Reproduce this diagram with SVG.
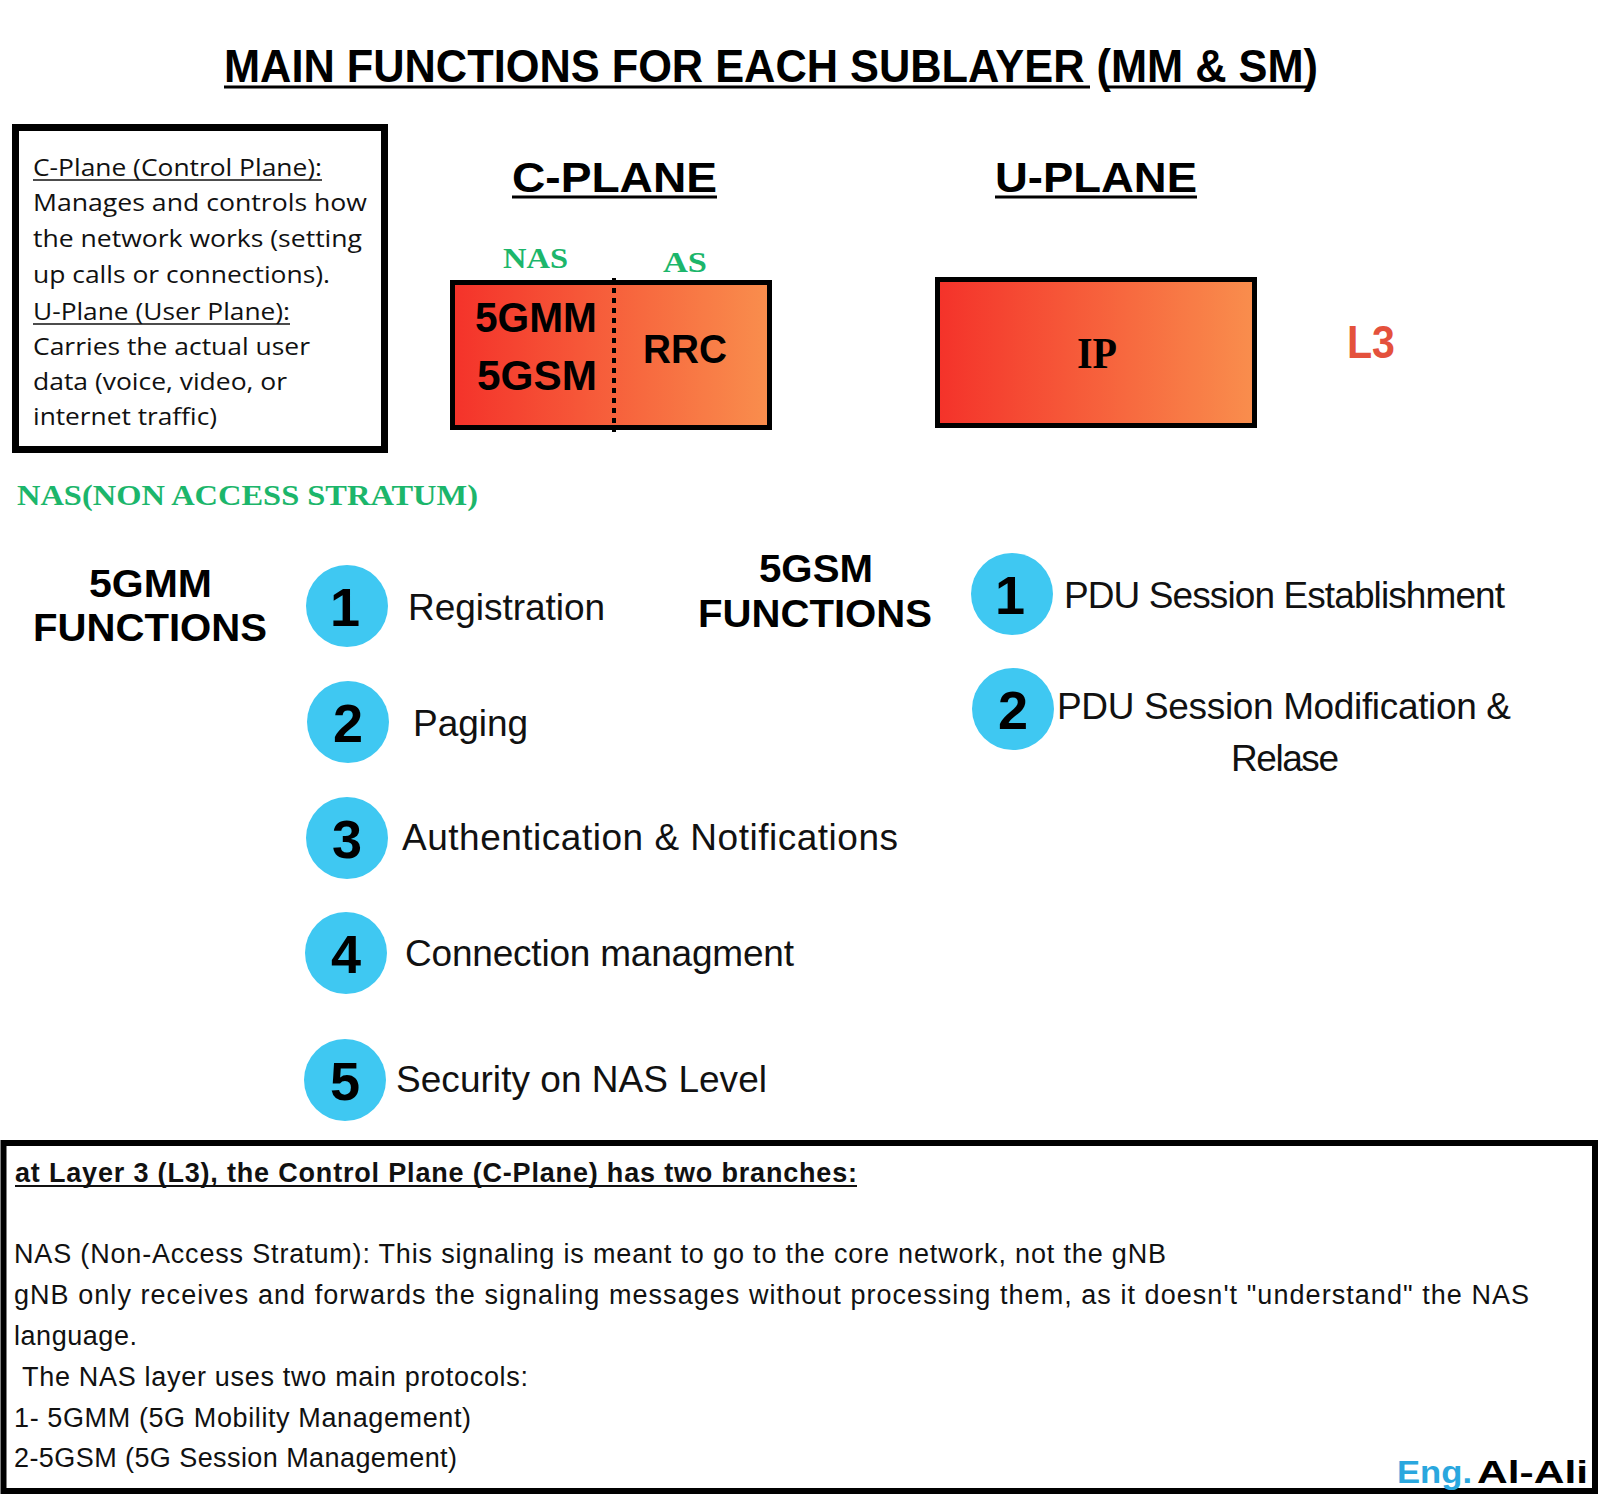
<svg xmlns="http://www.w3.org/2000/svg" width="1600" height="1501" viewBox="0 0 1600 1501">
<style>
.sans{font-family:"Liberation Sans",Arial,sans-serif}
.bold{font-weight:bold}
.serif{font-family:"Liberation Serif","Times New Roman",serif;font-weight:bold}
.info{font-family:"Open Sans","Noto Sans",sans-serif;font-size:24px;fill:#111}
.green{fill:#1cb66b}
.num{font-family:"Liberation Sans",Arial,sans-serif;font-weight:bold;font-size:54px;fill:#000;text-anchor:middle}
.lbl{font-family:"Liberation Sans",Arial,sans-serif;font-size:37px;fill:#111}
.body{font-family:"Liberation Sans",Arial,sans-serif;font-size:27px;fill:#111}
.circ{fill:#3fc8f2}
.ul{stroke:#000;stroke-width:3}
.box{stroke:#000;stroke-width:5;fill:url(#grad)}
</style>
<defs>
<linearGradient id="grad" x1="0" y1="0" x2="1" y2="0">
<stop offset="0" stop-color="#f4322a"/>
<stop offset="1" stop-color="#f98e4d"/>
</linearGradient>
</defs>
<rect width="1600" height="1501" fill="#fff"/>

<g id="title">
<text class="sans bold" x="224" y="82" font-size="46" textLength="1094" lengthAdjust="spacingAndGlyphs">MAIN FUNCTIONS FOR EACH SUBLAYER (MM &amp; SM)</text>
<line class="ul" x1="224" y1="87" x2="1090" y2="87"/>
<line class="ul" x1="1107" y1="87" x2="1309" y2="87"/>
</g>

<g id="plane-info">
<rect x="15.5" y="127.5" width="369" height="322" fill="#fff" stroke="#000" stroke-width="7"/>
<text class="info" x="33" y="176" textLength="289" lengthAdjust="spacingAndGlyphs">C-Plane (Control Plane):</text>
<line x1="33" y1="180" x2="322" y2="180" stroke="#111" stroke-width="1.5"/>
<text class="info" x="33" y="211" textLength="334" lengthAdjust="spacingAndGlyphs">Manages and controls how</text>
<text class="info" x="33" y="247" textLength="329" lengthAdjust="spacingAndGlyphs">the network works (setting</text>
<text class="info" x="33" y="283" textLength="297" lengthAdjust="spacingAndGlyphs">up calls or connections).</text>
<text class="info" x="33" y="320" textLength="257" lengthAdjust="spacingAndGlyphs">U-Plane (User Plane):</text>
<line x1="33" y1="324" x2="290" y2="324" stroke="#111" stroke-width="1.5"/>
<text class="info" x="33" y="355" textLength="277" lengthAdjust="spacingAndGlyphs">Carries the actual user</text>
<text class="info" x="33" y="390" textLength="254" lengthAdjust="spacingAndGlyphs">data (voice, video, or</text>
<text class="info" x="33" y="425" textLength="184" lengthAdjust="spacingAndGlyphs">internet traffic)</text>
</g>

<g id="c-plane">
<text class="sans bold" x="512" y="192" font-size="42" textLength="205" lengthAdjust="spacingAndGlyphs">C-PLANE</text>
<line class="ul" x1="512" y1="197" x2="717" y2="197"/>
<text class="serif green" x="503" y="268" font-size="30" textLength="65" lengthAdjust="spacingAndGlyphs">NAS</text>
<text class="serif green" x="663" y="272" font-size="30" textLength="44" lengthAdjust="spacingAndGlyphs">AS</text>
<rect class="box" x="452.5" y="282.5" width="317" height="145"/>
<line x1="614" y1="278" x2="614" y2="432" stroke="#000" stroke-width="4" stroke-dasharray="5,5"/>
<text class="sans bold" x="475" y="332" font-size="42" textLength="122" lengthAdjust="spacingAndGlyphs">5GMM</text>
<text class="sans bold" x="477" y="390" font-size="42" textLength="120" lengthAdjust="spacingAndGlyphs">5GSM</text>
<text class="sans bold" x="643" y="363" font-size="40" textLength="84" lengthAdjust="spacingAndGlyphs">RRC</text>
</g>

<g id="u-plane">
<text class="sans bold" x="995" y="192" font-size="42" textLength="202" lengthAdjust="spacingAndGlyphs">U-PLANE</text>
<line class="ul" x1="995" y1="197" x2="1197" y2="197"/>
<rect class="box" x="937.5" y="279.5" width="317" height="146"/>
<text class="serif" x="1077" y="368" font-size="44" textLength="40" lengthAdjust="spacingAndGlyphs">IP</text>
</g>

<g id="l3-label">
<text class="sans bold" x="1347" y="358" font-size="47" fill="#e4513c" textLength="48" lengthAdjust="spacingAndGlyphs">L3</text>
</g>

<g id="nas-heading">
<text class="serif green" x="17" y="505" font-size="29" textLength="461" lengthAdjust="spacingAndGlyphs">NAS(NON ACCESS STRATUM)</text>
</g>

<g id="mm-functions">
<text class="sans bold" x="89" y="597" font-size="38" textLength="123" lengthAdjust="spacingAndGlyphs">5GMM</text>
<text class="sans bold" x="33" y="641" font-size="38" textLength="234" lengthAdjust="spacingAndGlyphs">FUNCTIONS</text>
</g>

<g id="mm-1">
<circle class="circ" cx="347" cy="606" r="41"/>
<text class="num" x="345" y="626">1</text>
<text class="lbl" x="408" y="620" textLength="197">Registration</text>
</g>
<g id="mm-2">
<circle class="circ" cx="348" cy="722" r="41"/>
<text class="num" x="348" y="742">2</text>
<text class="lbl" x="413" y="736" textLength="115">Paging</text>
</g>
<g id="mm-3">
<circle class="circ" cx="347" cy="838" r="41"/>
<text class="num" x="347" y="858">3</text>
<text class="lbl" x="402" y="850" textLength="496">Authentication &amp; Notifications</text>
</g>
<g id="mm-4">
<circle class="circ" cx="346" cy="953" r="41"/>
<text class="num" x="346" y="973">4</text>
<text class="lbl" x="405" y="966" textLength="389">Connection managment</text>
</g>
<g id="mm-5">
<circle class="circ" cx="345" cy="1080" r="41"/>
<text class="num" x="345" y="1100">5</text>
<text class="lbl" x="396" y="1092" textLength="371">Security on NAS Level</text>
</g>

<g id="sm-functions">
<text class="sans bold" x="759" y="582" font-size="38" textLength="114" lengthAdjust="spacingAndGlyphs">5GSM</text>
<text class="sans bold" x="698" y="627" font-size="38" textLength="234" lengthAdjust="spacingAndGlyphs">FUNCTIONS</text>
</g>

<g id="sm-1">
<circle class="circ" cx="1012" cy="594" r="41"/>
<text class="num" x="1010" y="614">1</text>
<text class="lbl" x="1064" y="608" textLength="441">PDU Session Establishment</text>
</g>
<g id="sm-2">
<circle class="circ" cx="1013" cy="709" r="41"/>
<text class="num" x="1013" y="729">2</text>
<text class="lbl" x="1057" y="719" textLength="454">PDU Session Modification &amp;</text>
<text class="lbl" x="1231" y="771" textLength="108">Relase</text>
</g>

<g id="summary">
<rect x="3.5" y="1143" width="1591.5" height="348" fill="none" stroke="#000" stroke-width="6"/>
<text class="body bold" x="15" y="1182" textLength="842">at Layer 3 (L3), the Control Plane (C-Plane) has two branches:</text>
<line x1="15" y1="1186" x2="857" y2="1186" stroke="#111" stroke-width="2"/>
<text class="body" x="14" y="1263" textLength="1152">NAS (Non-Access Stratum): This signaling is meant to go to the core network, not the gNB</text>
<text class="body" x="14" y="1304" textLength="1515">gNB only receives and forwards the signaling messages without processing them, as it doesn't "understand" the NAS</text>
<text class="body" x="14" y="1345" textLength="123">language.</text>
<text class="body" x="22" y="1386" textLength="506">The NAS layer uses two main protocols:</text>
<text class="body" x="14" y="1427" textLength="457">1- 5GMM (5G Mobility Management)</text>
<text class="body" x="14" y="1467" textLength="443">2-5GSM (5G Session Management)</text>
</g>

<g id="signature">
<text class="sans bold" x="1397" y="1483" font-size="32" fill="#2aa7de" textLength="75" lengthAdjust="spacingAndGlyphs">Eng.</text>
<text class="sans bold" x="1477" y="1483" font-size="32" fill="#000" textLength="111" lengthAdjust="spacingAndGlyphs">Al-Ali</text>
</g>

<g id="connectors"></g>
</svg>
